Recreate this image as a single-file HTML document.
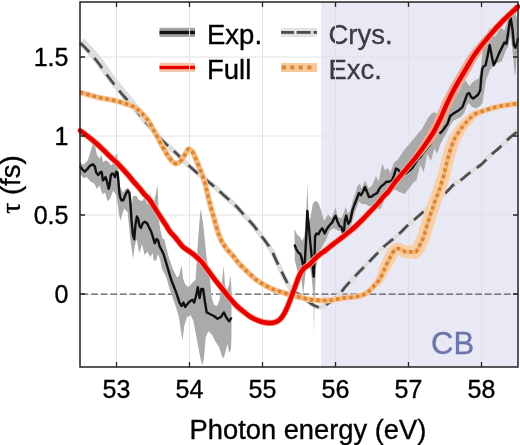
<!DOCTYPE html>
<html><head><meta charset="utf-8"><style>html,body{margin:0;padding:0;background:#fff;width:520px;height:445px;overflow:hidden}svg{display:block}</style></head>
<body>
<svg width="520" height="445" viewBox="0 0 520 445">
<rect width="520" height="445" fill="#fff"/>
<g id="legend">
<rect x="159.5" y="27.8" width="35.5" height="9.2" fill="#a3a3a3"/>
<rect x="159.5" y="30.8" width="35.5" height="3.4" fill="#141414"/>
<rect x="159.5" y="62.9" width="35.5" height="9" fill="#f5c3a8"/>
<rect x="159.5" y="65.8" width="35.5" height="3.4" fill="#e80000"/>
<rect x="281" y="28" width="36" height="9" fill="#e3e3e3"/>
<rect x="281" y="31" width="13" height="2.8" fill="#4d4d4d"/>
<rect x="296.6" y="31" width="14.1" height="2.8" fill="#4d4d4d"/>
<rect x="313.5" y="31" width="3.5" height="2.8" fill="#4d4d4d"/>
<rect x="281" y="63" width="36" height="9" fill="#f7c898"/>
<rect x="282.1" y="65.5" width="4" height="4" fill="#d98636"/>
<rect x="290.3" y="65.5" width="4" height="4" fill="#d98636"/>
<rect x="298.7" y="65.5" width="4" height="4" fill="#d98636"/>
<rect x="307.3" y="65.5" width="4" height="4" fill="#d98636"/>
<text x="207" y="43.6" style="font-family:'Liberation Sans',Arial,Helvetica,sans-serif;font-size:27.5px" fill="#000" stroke="#000" stroke-width="0.35">Exp.</text>
<text x="207" y="78.7" style="font-family:'Liberation Sans',Arial,Helvetica,sans-serif;font-size:27.5px" fill="#000" stroke="#000" stroke-width="0.35">Full</text>
<text x="328.5" y="43.6" style="font-family:'Liberation Sans',Arial,Helvetica,sans-serif;font-size:27.5px" fill="#000" stroke="#000" stroke-width="0.35">Crys.</text>
<text x="328.5" y="78.7" style="font-family:'Liberation Sans',Arial,Helvetica,sans-serif;font-size:27.5px" fill="#000" stroke="#000" stroke-width="0.35">Exc.</text>
</g>
<rect x="321" y="2" width="197" height="365" fill="rgb(185,182,223)" fill-opacity="0.314"/>
<line x1="116.5" y1="2" x2="116.5" y2="367" stroke="#e2e2e2" stroke-width="1"/>
<line x1="189.5" y1="2" x2="189.5" y2="367" stroke="#e2e2e2" stroke-width="1"/>
<line x1="262.5" y1="2" x2="262.5" y2="367" stroke="#e2e2e2" stroke-width="1"/>
<line x1="335.5" y1="2" x2="335.5" y2="367" stroke="#e2e2e2" stroke-width="1"/>
<line x1="408.5" y1="2" x2="408.5" y2="367" stroke="#e2e2e2" stroke-width="1"/>
<line x1="481.5" y1="2" x2="481.5" y2="367" stroke="#e2e2e2" stroke-width="1"/>
<line x1="80" y1="215" x2="518" y2="215" stroke="#e2e2e2" stroke-width="1"/>
<line x1="80" y1="136" x2="518" y2="136" stroke="#e2e2e2" stroke-width="1"/>
<line x1="80" y1="57" x2="518" y2="57" stroke="#e2e2e2" stroke-width="1"/>
<line x1="81.4" y1="294" x2="518" y2="294" stroke="#5a5a5a" stroke-width="1.25" stroke-dasharray="7,2.6"/>
<g fill="none" stroke-linejoin="round">
<path d="M80,162 L83.4,164.7 L87.9,160.2 L90.6,151.2 L93.3,142.2 L95.1,145.8 L96.9,154.8 L99.6,158.4 L101.4,154.8 L103.2,162 L105.9,160.2 L108.6,162 L111.3,165.6 L114,162 L115.8,154.8 L117.2,153.9 L118.4,171 L120.2,187.1 L122.9,192.5 L125.6,188.9 L128.3,188 L130.1,196.1 L131.9,205.1 L133,195.8 L136.6,195.8 L138.4,199.4 L142,201.2 L144.7,197.6 L147.4,204.8 L150.1,192.2 L152.8,206.6 L155.4,195.8 L157.4,185 L158.3,203 L159,221 L160.8,231.7 L162.6,238.9 L164.2,239.1 L166.3,247.6 L168.5,256.2 L170.6,262.6 L172.8,269 L174.9,273.3 L177,277.5 L179,276 L181.7,265 L183,278 L185,284 L188,287 L190.6,285 L193,282 L195.5,280 L196.7,262 L198,240 L200,215 L200.8,209 L201.8,215 L203.5,227 L206.2,254 L208.5,270 L210.2,281 L211.6,297 L214,305 L217,306 L219.5,300 L221.5,285 L223.7,266 L225,285 L227,290 L229,285 L230.5,275 L231.5,290 L231.5,335 L231,349.3 L229.2,352.9 L227.4,343.9 L225.6,351.1 L223.8,358.3 L222,356.5 L219.3,347.5 L215.7,342.1 L212.1,335 L208.5,331.3 L205.8,336.7 L204,358.3 L202.2,365.5 L200.4,358.3 L198.7,349.3 L196,335 L193.3,320.6 L190.6,315.2 L187,317 L184.3,326 L182.5,340.3 L180.7,329.6 L178.9,317 L176.2,308 L172.6,297.2 L169.9,290 L166.3,277 L162,269 L159.9,258.7 L157.8,254 L156.3,260.5 L153.5,260.4 L152.8,253.3 L150.1,256.9 L147.4,251.5 L144.7,255.1 L142,244.3 L139.3,253.3 L136.6,238.9 L134.8,246.1 L133,258.7 L130.3,238.9 L127.6,212 L124,208.4 L120.4,221 L118.6,212 L117.6,203.3 L115.8,194.3 L113.1,190.7 L110.4,197.9 L107.7,201.5 L105,192.5 L102.3,194.3 L99.6,185.3 L96.9,188.9 L94.2,183.5 L90.6,181.7 L87,177.2 L83.4,178.1 L80,173.7 Z" fill="#aaaaaa" stroke="none"/>
<path d="M294.4,229 L297.1,234.5 L299.8,237 L302.5,241 L304.5,235 L306,215 L307.6,184 L308.3,210 L309.5,222 L311,215 L312.5,205 L314,202 L316,200.8 L318.7,203.5 L321.4,211.6 L324.1,221 L328.1,214.3 L331.5,218.3 L335.6,207.5 L337.6,217 L341.6,218.3 L344,212 L346,207 L348,214 L350.5,210 L353,200 L355.5,193 L357.1,186.8 L359.8,183.2 L361.6,188.6 L365.2,180.5 L368.8,188.6 L372.4,185 L376,176 L378.7,181.4 L382.3,163.4 L385,170.6 L387.7,167.9 L390.4,172.4 L394,162.5 L397.6,159.8 L404,150.3 L413,139.5 L422,129 L428,118 L431,114 L434,112 L437,114 L440,110 L447,104 L452,101 L456,96 L460,90 L462.4,84.3 L465.5,80.2 L467.5,83.3 L469.5,86.3 L472.5,82.2 L475.6,80.2 L478.6,78.2 L480.6,72.1 L483,46.4 L486,38 L489.7,27.5 L492,33 L495,37 L500.4,27.5 L504.5,30.2 L507,22 L510,15.4 L515.3,14 L518,20 L518,52 L516.6,56 L516,68 L515.3,76 L514.5,72 L513,55 L511.5,42 L510.2,36 L508,47 L505.8,50.4 L501.8,61.2 L495,64 L490,70 L486,80 L482.6,102.5 L479.6,106.5 L475.6,108.5 L471.5,106.5 L468.5,102.5 L466.5,106.5 L464.4,112.6 L461.4,116.6 L457.4,118.7 L453.3,120.7 L449.3,126.7 L447,132 L443.5,138 L440,145 L437.2,154 L434.5,148.5 L430.9,161 L427.3,154 L423.7,172 L420.2,165 L416.6,180 L413,183 L410.1,187 L404.7,194 L399.3,192 L396,190 L392,190 L388.5,193 L384.5,200 L380.4,209 L376.4,208 L372.4,206 L368.3,206 L365.6,204 L361.6,203.9 L358.9,201.2 L355,212 L352,222 L348,233 L344.3,231 L338.9,231 L333.5,228 L329.5,231 L326,240 L323,245 L320,250 L318,258 L316,268 L314.6,300 L314,336 L313.5,300 L312,280 L310,268 L308,262 L306,270 L304.5,282 L303.2,295 L301.6,281 L300,276 L297.5,271.2 L294.8,260.4 Z" fill="#aaaaaa" stroke="none"/>
<path d="M80,166 L82,169 L84.7,171.7 L87.4,169 L90.1,165.6 L92.8,164.3 L94.8,166.3 L96.2,172.4 L98.2,175 L100.2,172.4 L101.6,171.7 L102.9,180.4 L104.3,179.1 L105.5,177 L106.8,180.7 L108.6,188.8 L109.5,186.1 L110.8,175.3 L112.2,173.5 L114,174.8 L114.9,177.1 L116.2,171.7 L117.6,172.6 L118.5,182.5 L119.4,193.3 L120.3,197.8 L121.6,200.5 L123.4,200 L125.7,194.2 L127.9,190.6 L129.3,192.4 L130.2,200 L131.5,220.4 L132.8,233.9 L134.2,239.3 L135.5,224.5 L136.9,216.4 L138.2,219.1 L139.5,225.8 L140.9,227.9 L142.9,223.1 L144.9,221.8 L147,223.1 L149,227.2 L151,231.2 L152.7,236.4 L154.7,243.1 L156.7,239.1 L158.1,240.4 L159.4,245.8 L161.5,249.9 L163.5,254 L165.8,261.6 L167.8,268.3 L169.8,275.1 L171.9,281.8 L173.9,286.5 L176.2,292.6 L178,298 L179.8,303.4 L181.6,306.1 L183.4,302.5 L185.2,307 L187.9,303.4 L190.6,300.7 L192.4,299.8 L194.2,302.5 L196,296.2 L197.8,287.2 L199.6,298 L201.3,289 L203.1,289 L204.9,301.6 L206.7,312.4 L210.3,314.2 L213.9,316 L217.5,318.7 L221.1,316.9 L223.8,312.4 L226.5,317.8 L229.2,321.3 L231.5,317.5" stroke="#111" stroke-width="2.4"/>
<path d="M294.5,244.5 L296.2,249 L298.2,252.4 L300.2,253.7 L301.6,257.8 L302.9,264.5 L304,271.2 L304.9,260.4 L306.3,236.2 L307.3,211 L309,228.1 L310.3,242.9 L311.7,256.4 L313,269.9 L313.7,276.6 L314.4,260.4 L315.1,236.2 L316.4,233.5 L318.4,234.3 L320.3,230.5 L322.3,228.3 L324.7,233.5 L326.7,229.3 L329.3,225.5 L332.2,222.4 L334.2,218.3 L335.6,215.8 L337.5,221.5 L339.5,226 L341.5,227.1 L343.8,236 L344.8,221 L346.2,215.6 L348.2,223.7 L350.2,221 L352.5,210 L354.8,203.9 L356.9,198.5 L358.9,193.1 L360.9,195.2 L362.9,191.8 L364.9,187.1 L367,191.8 L369,197 L371.7,196.5 L374.4,194.5 L377.1,193.1 L379.1,189.1 L381.1,186.4 L383.8,184.4 L386.5,181.7 L389.2,181.7 L391.9,180.3 L393.9,175.6 L396,168.5 L398,169.5 L400,172 L402.9,174.5 L406.3,173.1 L409.7,170.4 L412.4,167.8 L415.1,163.7 L417.8,159 L420.4,157 L423.1,152.9 L426.5,148.9 L429.9,144.8 L432.6,139.4 L435.3,134 L437.8,131.5 L440.5,133 L443.5,129.5 L445.5,126.5 L447.5,123.9 L450.2,116 L454.3,113.1 L458.3,110.6 L462.4,107.2 L465.1,100 L467.1,94.3 L469.1,92.9 L471.1,97 L473.1,98.5 L475.8,96.5 L478.2,94.5 L480.3,90 L481.2,78.1 L482.2,69 L483.5,66.5 L485.6,65.3 L487.6,55.8 L489.7,45.1 L491.7,55.8 L493.7,65.3 L496.4,59.9 L499.1,53.1 L501.8,47.8 L504.5,42.4 L506.5,43.7 L508.5,30.2 L510.6,16.7 L512.6,30.2 L513.9,45.1 L515.3,47.8 L517.3,42.4 L518,38" stroke="#111" stroke-width="2.4"/>
<path d="M84.1,38.4 C85.7,40 90.2,44.4 93.2,47.9 C96.3,51.3 99.4,55.1 102.4,59.1 C105.5,63 108.4,67.7 111.4,71.7 C114.4,75.8 117.3,79.6 120.2,83.3 C123.1,87 126.1,90.5 129,94 C131.9,97.5 135.1,101.3 137.5,104.4 C139.9,107.6 141.6,110.5 143.4,112.9 C145.2,115.4 145.4,115.7 148.2,119.3 C151,122.8 156.6,130.2 160,134.1 C163.4,138.1 165.8,140.3 168.8,143.1 C171.7,146 174.8,148.4 177.8,151.2 C180.8,154.1 183.8,157.4 186.8,160.2 C189.8,163.1 192.7,165.7 195.7,168.3 C198.6,170.8 201.5,173 204.5,175.4 C207.5,177.8 211,180.5 213.5,182.6 C216,184.7 217.2,185.8 219.7,188 C222.2,190.3 225.7,193.4 228.7,196.1 C231.7,198.8 234.7,201.3 237.8,204.3 C240.8,207.4 243.8,211 246.9,214.3 C249.9,217.6 253.1,220.9 255.8,224.2 C258.5,227.5 261,231.4 263.1,234.2 C265.2,237 266.5,238.6 268.3,241.1 C270.1,243.6 272,246.1 273.8,249.3 C275.5,252.5 277.2,256.6 278.9,260.3 C280.7,264 282.8,268.5 284.3,271.5 C285.8,274.6 286.7,276.4 287.9,278.7 C289.1,281 290.3,283.4 291.4,285.2 C292.5,287.1 293.3,288.7 294.6,289.8 C295.9,291 297.6,291 299.2,291.9 C300.8,292.8 302.9,294.2 304.4,295.3 C306,296.4 306.9,297.4 308.5,298.6 C310,299.8 312.3,301.5 313.7,302.5 C315.2,303.4 316.1,303.8 317.2,304.2 C318.3,304.6 319.2,304.9 320.2,304.8 C321.2,304.7 322.2,304.3 323.4,303.7 C324.6,303 325.9,301.9 327.2,301.1 C328.5,300.2 329.9,299.5 331.2,298.6 C332.5,297.6 333.8,296.4 334.9,295.4 C336.1,294.4 337.1,293.7 338.2,292.4 C339.3,291.1 339.9,289.7 341.6,287.6 C343.4,285.5 346.2,282.3 348.4,279.8 C350.7,277.3 353,274.8 355.3,272.5 C357.5,270.1 359.8,267.8 362,265.5 C364.2,263.3 366.5,261 368.7,258.7 C371,256.5 373.3,254.2 375.5,251.9 C377.8,249.5 380.1,246.9 382.3,244.9 C384.5,242.8 387.1,240.9 388.7,239.6 C390.4,238.3 390.3,238.5 392,237.1 C393.6,235.7 396.4,233.2 398.6,231.1 C400.8,229 403.2,226.5 405.4,224.4 C407.7,222.3 409.9,220.4 412.2,218.5 C414.4,216.5 416.6,214.7 418.9,212.7 C421.1,210.7 421.5,210.1 425.7,206.6 C429.9,203 439.5,195.2 443.9,191.3 C448.3,187.4 449.5,185.1 452,183.1 C454.5,181 456.6,180.4 458.9,178.8 C461.1,177.1 463.4,175 465.6,173.2 C467.8,171.5 469.8,169.9 472.2,168.2 C474.5,166.5 477.6,164.7 479.8,162.9 C482,161.1 483.5,159.1 485.3,157.3 C487.2,155.5 489.1,153.6 491,151.9 C492.9,150.3 494.8,148.9 496.6,147.2 C498.5,145.6 500.3,143.8 502.2,142 C504,140.2 505.9,138.2 507.8,136.5 C509.7,134.8 512,133 513.5,131.8 C515,130.6 516.1,129.7 516.6,129.3 L519.4,132.7 C518.9,133.1 517.7,134 516.3,135.2 C514.9,136.4 512.6,138.1 510.8,139.7 C508.9,141.4 507.1,143.4 505.2,145.2 C503.4,147 501.5,148.9 499.6,150.6 C497.7,152.2 495.8,153.6 494,155.3 C492.1,156.9 490.4,158.7 488.5,160.5 C486.6,162.3 484.9,164.4 482.6,166.3 C480.4,168.2 477.2,170.1 474.8,171.8 C472.5,173.6 470.6,175 468.4,176.8 C466.2,178.5 463.8,180.8 461.5,182.4 C459.3,184.1 457.4,184.5 455,186.5 C452.5,188.6 451.3,190.8 446.9,194.7 C442.5,198.6 432.9,206.5 428.7,210 C424.5,213.6 424.2,214.1 421.9,216.1 C419.7,218.1 417.4,220 415.2,221.9 C413,223.9 410.8,225.7 408.6,227.8 C406.3,229.9 404.1,232.3 401.8,234.5 C399.5,236.6 396.7,239.2 395,240.7 C393.3,242.1 393.2,241.9 391.7,243.2 C390.1,244.5 387.6,246.3 385.5,248.3 C383.4,250.3 381.1,252.9 378.9,255.1 C376.6,257.4 374.3,259.8 372.1,262.1 C369.8,264.3 367.6,266.6 365.4,268.9 C363.2,271.1 361,273.4 358.7,275.7 C356.5,278.1 354.2,280.5 352,283 C349.7,285.5 347,288.5 345.4,290.6 C343.7,292.7 343,294.2 341.8,295.6 C340.6,297 339.4,297.9 338.1,299 C336.8,300.1 335.4,301.4 334,302.4 C332.6,303.4 331.2,304.2 329.8,305.1 C328.4,306 327.1,307.2 325.6,307.9 C324.1,308.7 322.3,309.5 320.6,309.6 C318.9,309.7 317.2,309.3 315.6,308.8 C314,308.3 312.8,307.6 311.1,306.5 C309.4,305.5 307.1,303.6 305.5,302.4 C303.9,301.2 303,300.3 301.6,299.3 C300.1,298.2 298.5,297.1 296.8,296.1 C295.1,295.2 293,294.9 291.4,293.6 C289.8,292.2 288.5,289.9 287.2,287.8 C285.9,285.7 284.7,283.3 283.5,280.9 C282.3,278.6 281.4,276.8 279.9,273.7 C278.4,270.6 276.2,266.1 274.5,262.5 C272.7,258.8 271.1,254.8 269.4,251.7 C267.7,248.6 266,246.4 264.3,243.9 C262.6,241.5 261.2,239.9 259.1,237.2 C257.1,234.4 254.6,230.6 252,227.4 C249.3,224.1 246.1,220.9 243.1,217.7 C240.2,214.4 237.2,210.8 234.2,207.9 C231.3,204.9 228.3,202.6 225.3,199.9 C222.3,197.2 218.8,194 216.3,191.8 C213.8,189.6 212.8,188.6 210.3,186.6 C207.8,184.5 204.3,181.8 201.3,179.4 C198.3,177 195.3,174.7 192.3,172.1 C189.3,169.6 186.2,166.8 183.2,164 C180.2,161.1 177.2,157.8 174.2,155 C171.2,152.1 168.2,149.7 165.2,146.9 C162.2,144 159.7,141.7 156.1,137.8 C152.5,133.9 146.4,126.8 143.4,123.4 C140.4,120 140.1,119.5 138.2,117.1 C136.3,114.7 134.5,112.1 132,109.1 C129.5,106.1 126,102.7 123,99.2 C120,95.7 117,92.1 114,88.3 C110.9,84.5 107.9,80.6 104.9,76.6 C101.9,72.5 98.9,67.9 95.9,64.1 C93,60.2 90,56.7 87.1,53.4 C84.1,50.1 79.6,45.8 78.1,44.3 Z" fill="#dedede" stroke="none"/>
<path d="M80,42.5 C81.5,44 86,48.4 89,51.7 C92,55 95,58.6 98,62.5 C101,66.4 104,71 107,75 C110,79 113,83 116,86.7 C119,90.5 122,94 125,97.5 C128,101 131.5,104.4 134,107.4 C136.5,110.4 138.3,113.1 140.2,115.5 C142.1,117.9 142.4,118.3 145.4,121.7 C148.4,125.1 154.4,132.1 158,136 C161.6,139.9 164,142.2 167,145 C170,147.8 173,150.2 176,153.1 C179,155.9 182,159.2 185,162.1 C188,164.9 191,167.6 194,170.2 C197,172.8 199.9,175 202.9,177.4 C205.9,179.8 209.4,182.5 211.9,184.6 C214.4,186.7 215.5,187.7 218,189.9 C220.5,192.1 224,195.3 227,198 C230,200.7 233,203.1 236,206.1 C239,209.1 242,212.7 245,216 C248,219.3 251.2,222.5 253.9,225.8 C256.6,229.1 259,232.9 261.1,235.7 C263.2,238.5 264.6,240 266.3,242.5 C268.1,245 269.9,247.3 271.6,250.5 C273.3,253.7 274.9,257.7 276.7,261.4 C278.4,265.1 280.6,269.5 282.1,272.6 C283.6,275.7 284.5,277.5 285.7,279.8 C286.9,282.1 288.1,284.5 289.3,286.5 C290.5,288.5 291.6,290.4 293,291.7 C294.4,292.9 296.3,293.1 298,294 C299.7,294.9 301.5,296.2 303,297.3 C304.5,298.4 305.4,299.3 307,300.5 C308.6,301.7 310.8,303.5 312.4,304.5 C314,305.5 315.1,306.1 316.4,306.5 C317.7,306.9 319,307.3 320.4,307.2 C321.8,307.1 323.1,306.5 324.5,305.8 C325.9,305.1 327.1,304 328.5,303.1 C329.9,302.2 331.3,301.5 332.6,300.5 C333.9,299.5 335.3,298.3 336.5,297.2 C337.7,296.1 338.8,295.4 340,294 C341.2,292.6 341.8,291.2 343.5,289.1 C345.2,287 347.9,283.9 350.2,281.4 C352.4,278.9 354.8,276.5 357,274.1 C359.2,271.7 361.5,269.5 363.7,267.2 C365.9,264.9 368.1,262.7 370.4,260.4 C372.6,258.1 374.9,255.8 377.2,253.5 C379.4,251.2 381.7,248.6 383.9,246.6 C386.1,244.6 388.6,242.7 390.2,241.4 C391.8,240.1 391.8,240.3 393.5,238.9 C395.2,237.5 397.9,234.9 400.2,232.8 C402.4,230.7 404.8,228.2 407,226.1 C409.2,224 411.5,222.1 413.7,220.2 C415.9,218.2 418.1,216.4 420.4,214.4 C422.6,212.4 423,211.9 427.2,208.3 C431.4,204.7 441,196.9 445.4,193 C449.8,189.1 451,186.9 453.5,184.8 C456,182.7 457.9,182.2 460.2,180.6 C462.4,179 464.8,176.8 467,175 C469.2,173.2 471.1,171.7 473.5,170 C475.9,168.3 479,166.4 481.2,164.6 C483.4,162.8 485,160.7 486.9,158.9 C488.8,157.1 490.6,155.3 492.5,153.6 C494.4,151.9 496.2,150.6 498.1,148.9 C500,147.2 501.8,145.4 503.7,143.6 C505.6,141.8 507.4,139.8 509.3,138.1 C511.2,136.4 513.4,134.7 514.9,133.5 C516.4,132.3 517.5,131.4 518,131" stroke="#4d4d4d" stroke-width="2.8" stroke-dasharray="12.8,7.63" stroke-dashoffset="19.75"/>
<path d="M79.2,95.2 C80.7,95.6 85.2,96.9 88.2,97.7 C91.2,98.5 94.3,99.5 97.3,100.2 C100.3,100.9 103.4,101.4 106.4,102 C109.4,102.6 112.3,103.1 115.3,103.8 C118.2,104.5 121.2,105.4 124.1,106.4 C126.9,107.3 130.3,108.2 132.6,109.4 C134.9,110.7 136.7,112.6 138,113.8 C139.4,115 139.7,115.4 140.8,116.5 C141.8,117.7 143.3,119.3 144.3,120.6 C145.4,122 145.7,122.3 146.9,124.3 C148.2,126.4 150.1,129.9 151.8,133 C153.5,136.1 155.4,139.6 157.2,142.9 C159,146.2 160.8,149.8 162.6,152.8 C164.5,155.9 166.2,159.1 168.3,161.4 C170.5,163.7 173.2,166.4 175.7,166.6 C178.3,166.8 181.4,164.3 183.5,162.3 C185.6,160.4 187.4,156.5 188.3,154.7 C189.3,153 189.1,152.2 189.3,151.9 C189.6,151.6 189.1,151.8 189.7,153.1 C190.3,154.4 191.8,157.1 193,159.7 C194.1,162.3 195.3,165.7 196.5,168.6 C197.7,171.6 199,174.5 200.1,177.5 C201.1,180.4 201.9,183.3 202.7,186.3 C203.5,189.2 203.8,191.5 204.7,195.1 C205.6,198.7 206.8,203.6 207.9,207.8 C209,212 210.3,216.2 211.5,220.4 C212.7,224.6 213.9,229.4 215.2,233.1 C216.4,236.7 217.4,239.5 218.9,242.5 C220.5,245.5 222.5,248.3 224.6,251 C226.8,253.8 229.9,256.8 231.9,259.2 C233.9,261.6 234.4,262.9 236.8,265.4 C239.1,268 242.9,271.7 245.9,274.6 C249,277.5 252.1,280.5 255.2,282.8 C258.3,285.1 261.5,286.8 264.6,288.4 C267.7,290.1 270.8,291.7 273.9,292.9 C277,294.1 280,294.8 283,295.7 C286.1,296.6 289.1,297.6 292.1,298.4 C295.1,299.2 298.4,299.9 301.2,300.6 C303.9,301.3 306.3,302.1 308.6,302.5 C310.8,302.9 312.8,302.8 314.8,303 C316.7,303.1 318.2,303.3 320.3,303.4 C322.4,303.5 325,303.5 327.3,303.4 C329.7,303.3 331.6,303.2 334.3,302.8 C337.1,302.4 340,301.5 343.9,301 C347.8,300.4 353.8,300.3 357.6,299.5 C361.3,298.8 364,297.8 366.4,296.6 C368.9,295.3 370.7,293.7 372.4,292.1 C374.1,290.6 375.2,288.8 376.7,287.3 C378.2,285.9 379.8,285.2 381.4,283.4 C383,281.6 384.6,279.3 386.3,276.6 C387.9,274 389.7,270.3 391.3,267.5 C392.8,264.6 394.5,261.8 395.8,259.6 C397.1,257.4 398.5,255.1 398.9,254.3 C399.3,253.5 398.1,254.5 398.3,254.8 C398.5,255.1 398.9,255.5 400.2,256.1 C401.4,256.7 403.9,258.1 405.6,258.4 C407.3,258.7 408.6,258.1 410.5,258.2 C412.3,258.2 414.5,259.5 416.6,258.7 C418.7,257.8 421.3,255.4 422.9,253.3 C424.6,251.2 425.3,248.7 426.5,246.3 C427.6,243.8 428.9,241.5 429.9,238.7 C430.9,235.9 431.8,232 432.6,229.3 C433.4,226.6 434,224.7 434.6,222.5 C435.3,220.4 435.9,218.3 436.6,216.4 C437.2,214.5 437.9,213.3 438.6,211.3 C439.2,209.2 439.6,207.2 440.7,204.1 C441.8,201 443.5,197 445,192.8 C446.4,188.6 448.2,183 449.4,179 C450.5,175.1 451,172.3 451.8,169 C452.6,165.7 453.3,162.5 454.1,159.3 C455,156 456.1,152.3 457,149.4 C457.9,146.5 458.7,144.1 459.7,141.9 C460.7,139.6 461.9,137.7 463,135.7 C464.1,133.7 465.4,131.6 466.5,129.9 C467.7,128.1 468.9,126.8 470,125.3 C471.1,123.9 471.8,122.6 473.1,121.2 C474.3,119.8 475.9,118.1 477.4,117 C478.9,115.9 480.5,115.1 482.2,114.4 C484,113.7 485.9,113.2 487.8,112.7 C489.6,112.1 491.5,111.5 493.3,111 C495.2,110.5 496.9,109.9 498.8,109.5 C500.6,109.1 502.4,108.9 504.2,108.6 C506,108.2 507.9,107.9 509.8,107.7 C511.6,107.4 513.9,107.1 515.3,106.9 C516.7,106.7 517.8,106.6 518.3,106.6 L517.7,100.6 C517.2,100.7 516,100.7 514.5,100.9 C513,101.1 510.7,101.4 508.8,101.7 C507,102 505.1,102.3 503.2,102.6 C501.3,103 499.4,103.2 497.4,103.7 C495.5,104.1 493.6,104.7 491.7,105.2 C489.8,105.8 487.9,106.3 486,106.9 C484.1,107.5 482.2,108.1 480.2,108.8 C478.1,109.4 475.9,109.8 473.8,110.8 C471.7,111.8 469.2,113.4 467.3,114.8 C465.5,116.1 464.3,117.4 462.8,118.9 C461.3,120.3 459.8,121.7 458.3,123.5 C456.7,125.3 455.1,127.5 453.6,129.7 C452.1,131.9 450.5,134.1 449.1,136.7 C447.7,139.4 446.6,142.2 445.4,145.4 C444.2,148.6 443,152.5 442.1,155.9 C441.1,159.4 440.4,162.7 439.6,166 C438.8,169.3 438.3,171.8 437.2,175.6 C436.1,179.3 434.4,184.6 433,188.6 C431.6,192.7 429.8,196.8 428.7,199.9 C427.6,203 427.2,205.1 426.4,207.1 C425.7,209.2 425.1,210.3 424.4,212.2 C423.8,214.1 423.1,216.4 422.4,218.7 C421.7,220.9 421,223.1 420.2,225.7 C419.4,228.3 418.6,231.8 417.7,234.3 C416.8,236.8 415.7,238.7 414.7,240.7 C413.8,242.7 412.4,245.4 412.1,246.3 C411.8,247.2 413.2,246.5 413,246.3 C412.8,246.2 411.8,245.5 410.9,245.4 C410.1,245.4 408.7,246.1 407.8,246 C406.8,245.9 406.7,245.3 405.2,244.7 C403.8,244.1 401.4,242.3 398.9,242.4 C396.4,242.6 392.6,243.8 390.3,245.7 C388,247.6 386.7,250.9 385.2,253.8 C383.7,256.6 382.4,259.6 381.1,262.7 C379.9,265.9 378.9,269.8 377.9,272.6 C377,275.3 376.2,277.2 375.2,279 C374.3,280.8 373.4,281.8 372.3,283.3 C371.1,284.7 369.8,286.4 368.4,287.7 C367,289 365.7,290.2 363.8,291.2 C361.8,292.2 359.9,293 356.4,293.7 C353,294.3 346.9,294.5 343.1,295 C339.3,295.6 336.1,296.4 333.5,296.8 C330.8,297.2 329.2,297.3 327.1,297.4 C324.9,297.5 322.5,297.5 320.5,297.4 C318.5,297.3 317.1,297.2 315.2,297 C313.4,296.9 311.7,296.9 309.6,296.5 C307.5,296.2 305.3,295.4 302.6,294.8 C300,294.1 296.7,293.4 293.7,292.6 C290.7,291.8 287.7,290.8 284.8,289.9 C281.8,289 279,288.4 276.1,287.3 C273.2,286.2 270.3,284.7 267.4,283.2 C264.5,281.6 261.7,280.2 258.8,278 C255.9,275.8 253,273 250.1,270.2 C247.1,267.4 243.5,263.9 241.2,261.4 C239,258.9 238.5,257.7 236.5,255.4 C234.5,253 231.4,250 229.4,247.4 C227.3,244.7 225.7,242.4 224.3,239.7 C222.8,237 222,234.6 220.8,231.1 C219.7,227.7 218.5,222.9 217.3,218.8 C216.1,214.6 214.8,210.4 213.7,206.2 C212.6,202 211.4,197.3 210.5,193.7 C209.7,190.1 209.3,187.8 208.5,184.7 C207.7,181.7 206.8,178.6 205.7,175.5 C204.7,172.5 203.3,169.4 202.1,166.4 C200.9,163.3 199.7,160.1 198.4,157.3 C197.2,154.5 196.3,151.3 194.5,149.5 C192.7,147.6 189.5,145.8 187.7,146.1 C185.8,146.4 184.7,149.5 183.3,151.5 C181.8,153.5 180.3,156.7 179.1,158.3 C177.9,159.8 177.3,160.7 176.3,160.6 C175.2,160.5 174.3,159.2 172.9,157.4 C171.4,155.6 169.5,152.6 167.8,149.8 C166,146.9 164.2,143.3 162.4,140.1 C160.6,136.8 158.8,133.3 157,130.2 C155.3,127 153.4,123.5 152.1,121.3 C150.7,119.1 150.2,118.4 149.1,117 C147.9,115.5 146.4,113.8 145.2,112.5 C144,111.2 143.6,110.6 142,109.2 C140.3,107.8 138.1,105.6 135.4,104.2 C132.7,102.7 129.1,101.7 125.9,100.6 C122.8,99.6 119.8,98.7 116.7,98 C113.7,97.2 110.6,96.8 107.6,96.2 C104.6,95.6 101.7,95.1 98.7,94.4 C95.7,93.7 92.8,92.7 89.8,91.9 C86.8,91.1 82.3,89.8 80.8,89.4 Z" fill="#f8cfa6" stroke="none"/>
<path d="M80,92.3 C81.5,92.7 86,94 89,94.8 C92,95.6 95,96.6 98,97.3 C101,98 104,98.5 107,99.1 C110,99.7 113,100.2 116,100.9 C119,101.6 122,102.5 125,103.5 C128,104.5 131.5,105.5 134,106.8 C136.5,108.1 138.5,110.2 140,111.5 C141.5,112.8 141.9,113.3 143,114.5 C144.1,115.7 145.6,117.4 146.7,118.8 C147.8,120.2 148.2,120.7 149.5,122.8 C150.8,124.9 152.7,128.5 154.4,131.6 C156.1,134.7 158,138.2 159.8,141.5 C161.6,144.8 163.4,148.3 165.2,151.3 C167,154.3 168.8,157.4 170.6,159.4 C172.4,161.4 174.2,163.4 176,163.6 C177.8,163.8 179.7,162.1 181.3,160.3 C182.9,158.6 184.6,155 185.8,153.1 C187,151.2 187.4,149.3 188.5,149 C189.6,148.7 190.9,149.7 192.1,151.3 C193.3,152.9 194.5,155.8 195.7,158.5 C196.9,161.2 198.1,164.5 199.3,167.5 C200.5,170.5 201.9,173.5 202.9,176.5 C203.9,179.5 204.8,182.5 205.6,185.5 C206.4,188.5 206.7,190.8 207.6,194.4 C208.5,198 209.7,202.8 210.8,207 C211.9,211.2 213.2,215.4 214.4,219.6 C215.6,223.8 216.8,228.5 218,232.1 C219.2,235.7 220.1,238.2 221.6,241.1 C223.1,243.9 224.9,246.5 227,249.2 C229.1,251.9 232.2,254.9 234.2,257.3 C236.2,259.7 236.7,260.9 239,263.4 C241.3,265.9 245,269.6 248,272.4 C251,275.2 254,278.2 257,280.4 C260,282.6 263,284.2 266,285.8 C269,287.4 272,288.9 275,290.1 C278,291.3 280.9,291.9 283.9,292.8 C286.9,293.7 289.9,294.7 292.9,295.5 C295.9,296.3 299.2,297 301.9,297.7 C304.6,298.4 306.9,299.1 309.1,299.5 C311.3,299.9 313.1,299.9 315,300 C316.9,300.1 318.4,300.3 320.4,300.4 C322.4,300.5 324.9,300.5 327.2,300.4 C329.4,300.3 331.2,300.2 333.9,299.8 C336.6,299.4 339.6,298.5 343.5,298 C347.4,297.5 353.4,297.3 357,296.6 C360.6,295.9 362.9,295 365.1,293.9 C367.3,292.8 368.8,291.3 370.4,289.9 C372,288.5 373.2,286.8 374.5,285.3 C375.8,283.9 377,283 378.3,281.2 C379.6,279.4 380.8,277.3 382.1,274.6 C383.4,271.9 384.8,268.1 386.2,265.1 C387.6,262.1 389.1,259.2 390.5,256.7 C391.9,254.2 393.2,251.3 394.6,250 C396,248.7 397.2,248.5 398.6,248.6 C400,248.7 401.4,249.8 402.7,250.4 C404,251 405.4,252 406.7,252.2 C408,252.4 409.3,251.8 410.7,251.8 C412.1,251.9 413.7,252.8 414.8,252.5 C415.9,252.2 416.5,251.3 417.5,249.8 C418.5,248.3 419.6,245.7 420.6,243.5 C421.7,241.3 422.8,239.2 423.8,236.5 C424.8,233.8 425.6,230.2 426.4,227.5 C427.2,224.8 427.8,222.8 428.5,220.6 C429.2,218.4 429.8,216.2 430.5,214.3 C431.2,212.4 431.8,211.2 432.5,209.2 C433.2,207.1 433.6,205.1 434.7,202 C435.8,198.9 437.6,194.8 439,190.7 C440.4,186.6 442.2,181.2 443.3,177.3 C444.4,173.4 444.9,170.8 445.7,167.5 C446.5,164.2 447.2,160.9 448.1,157.6 C449,154.2 450.1,150.4 451.2,147.4 C452.2,144.4 453.2,141.8 454.4,139.3 C455.6,136.9 457,134.8 458.3,132.7 C459.6,130.6 461,128.5 462.4,126.7 C463.8,124.9 465.1,123.5 466.4,122.1 C467.7,120.6 468.7,119.4 470.2,118 C471.7,116.6 473.8,115 475.6,113.9 C477.4,112.8 479.3,112.3 481.2,111.6 C483.1,110.9 485,110.4 486.9,109.8 C488.8,109.2 490.6,108.6 492.5,108.1 C494.4,107.6 496.2,107 498.1,106.6 C500,106.2 501.8,105.9 503.7,105.6 C505.6,105.3 507.4,105 509.3,104.7 C511.2,104.4 513.4,104.1 514.9,103.9 C516.4,103.7 517.5,103.6 518,103.6" stroke="#f4b57a" stroke-width="4"/>
<path d="M80,92.3 C81.5,92.7 86,94 89,94.8 C92,95.6 95,96.6 98,97.3 C101,98 104,98.5 107,99.1 C110,99.7 113,100.2 116,100.9 C119,101.6 122,102.5 125,103.5 C128,104.5 131.5,105.5 134,106.8 C136.5,108.1 138.5,110.2 140,111.5 C141.5,112.8 141.9,113.3 143,114.5 C144.1,115.7 145.6,117.4 146.7,118.8 C147.8,120.2 148.2,120.7 149.5,122.8 C150.8,124.9 152.7,128.5 154.4,131.6 C156.1,134.7 158,138.2 159.8,141.5 C161.6,144.8 163.4,148.3 165.2,151.3 C167,154.3 168.8,157.4 170.6,159.4 C172.4,161.4 174.2,163.4 176,163.6 C177.8,163.8 179.7,162.1 181.3,160.3 C182.9,158.6 184.6,155 185.8,153.1 C187,151.2 187.4,149.3 188.5,149 C189.6,148.7 190.9,149.7 192.1,151.3 C193.3,152.9 194.5,155.8 195.7,158.5 C196.9,161.2 198.1,164.5 199.3,167.5 C200.5,170.5 201.9,173.5 202.9,176.5 C203.9,179.5 204.8,182.5 205.6,185.5 C206.4,188.5 206.7,190.8 207.6,194.4 C208.5,198 209.7,202.8 210.8,207 C211.9,211.2 213.2,215.4 214.4,219.6 C215.6,223.8 216.8,228.5 218,232.1 C219.2,235.7 220.1,238.2 221.6,241.1 C223.1,243.9 224.9,246.5 227,249.2 C229.1,251.9 232.2,254.9 234.2,257.3 C236.2,259.7 236.7,260.9 239,263.4 C241.3,265.9 245,269.6 248,272.4 C251,275.2 254,278.2 257,280.4 C260,282.6 263,284.2 266,285.8 C269,287.4 272,288.9 275,290.1 C278,291.3 280.9,291.9 283.9,292.8 C286.9,293.7 289.9,294.7 292.9,295.5 C295.9,296.3 299.2,297 301.9,297.7 C304.6,298.4 306.9,299.1 309.1,299.5 C311.3,299.9 313.1,299.9 315,300 C316.9,300.1 318.4,300.3 320.4,300.4 C322.4,300.5 324.9,300.5 327.2,300.4 C329.4,300.3 331.2,300.2 333.9,299.8 C336.6,299.4 339.6,298.5 343.5,298 C347.4,297.5 353.4,297.3 357,296.6 C360.6,295.9 362.9,295 365.1,293.9 C367.3,292.8 368.8,291.3 370.4,289.9 C372,288.5 373.2,286.8 374.5,285.3 C375.8,283.9 377,283 378.3,281.2 C379.6,279.4 380.8,277.3 382.1,274.6 C383.4,271.9 384.8,268.1 386.2,265.1 C387.6,262.1 389.1,259.2 390.5,256.7 C391.9,254.2 393.2,251.3 394.6,250 C396,248.7 397.2,248.5 398.6,248.6 C400,248.7 401.4,249.8 402.7,250.4 C404,251 405.4,252 406.7,252.2 C408,252.4 409.3,251.8 410.7,251.8 C412.1,251.9 413.7,252.8 414.8,252.5 C415.9,252.2 416.5,251.3 417.5,249.8 C418.5,248.3 419.6,245.7 420.6,243.5 C421.7,241.3 422.8,239.2 423.8,236.5 C424.8,233.8 425.6,230.2 426.4,227.5 C427.2,224.8 427.8,222.8 428.5,220.6 C429.2,218.4 429.8,216.2 430.5,214.3 C431.2,212.4 431.8,211.2 432.5,209.2 C433.2,207.1 433.6,205.1 434.7,202 C435.8,198.9 437.6,194.8 439,190.7 C440.4,186.6 442.2,181.2 443.3,177.3 C444.4,173.4 444.9,170.8 445.7,167.5 C446.5,164.2 447.2,160.9 448.1,157.6 C449,154.2 450.1,150.4 451.2,147.4 C452.2,144.4 453.2,141.8 454.4,139.3 C455.6,136.9 457,134.8 458.3,132.7 C459.6,130.6 461,128.5 462.4,126.7 C463.8,124.9 465.1,123.5 466.4,122.1 C467.7,120.6 468.7,119.4 470.2,118 C471.7,116.6 473.8,115 475.6,113.9 C477.4,112.8 479.3,112.3 481.2,111.6 C483.1,110.9 485,110.4 486.9,109.8 C488.8,109.2 490.6,108.6 492.5,108.1 C494.4,107.6 496.2,107 498.1,106.6 C500,106.2 501.8,105.9 503.7,105.6 C505.6,105.3 507.4,105 509.3,104.7 C511.2,104.4 513.4,104.1 514.9,103.9 C516.4,103.7 517.5,103.6 518,103.6" stroke="#da8534" stroke-width="3.6" stroke-dasharray="3.3,3.3"/>
<path d="M78,133.1 C79.9,134.5 85.4,138.5 89.1,141.6 C92.8,144.7 97.1,148.5 100.3,151.5 C103.5,154.4 105.8,157 108.2,159.3 C110.5,161.5 112.3,162.9 114.4,164.9 C116.5,167 118.7,169.4 120.6,171.5 C122.5,173.6 124.2,175.4 125.9,177.4 C127.7,179.5 129.5,181.8 131.3,183.9 C133.1,186 135.1,188 136.7,189.9 C138.4,191.8 139.9,193.9 141.2,195.5 C142.6,197.1 144,198.4 145,199.6 C146,200.7 146.3,200.8 147.3,202.3 C148.4,203.8 149.9,206.4 151.3,208.4 C152.6,210.5 154,212.7 155.4,214.8 C156.7,217 158,219.1 159.4,221.2 C160.7,223.2 162.1,225.2 163.5,227.3 C164.8,229.4 166.2,232 167.6,233.8 C169,235.7 170.5,236.8 171.8,238.4 C173.2,240 174.4,241.6 175.8,243.3 C177.2,245 178.6,247.2 180.1,248.6 C181.6,250 183.1,251 184.5,252 C185.9,253.1 187.2,253.8 188.5,254.7 C189.8,255.7 191.1,256.6 192.4,257.7 C193.7,258.8 195.1,260.1 196.3,261.2 C197.5,262.3 198.1,262.5 199.5,264.3 C200.9,266 202.8,268.8 204.9,271.6 C206.9,274.4 209.5,277.9 211.8,281 C214.2,284.1 216.6,287 219.1,290 C221.5,293 223.9,296.2 226.3,299.1 C228.8,302 231.2,304.9 233.7,307.4 C236.2,309.9 238.6,311.8 241.1,313.8 C243.5,315.8 246,317.9 248.6,319.5 C251.1,321 253.7,322.3 256.3,323.3 C258.9,324.4 261.5,325.2 264.1,325.7 C266.8,326.2 269.8,326.4 272.2,326.1 C274.6,325.9 276.9,325.1 278.7,324.2 C280.5,323.4 281.5,322.4 282.9,321 C284.2,319.6 285.5,318 286.8,315.6 C288.2,313.2 289.7,309.8 291.1,306.6 C292.5,303.3 293.8,299.6 295.1,295.9 C296.5,292.3 297.9,288.2 299.2,284.8 C300.6,281.3 301.9,277.6 303.1,275.2 C304.3,272.8 305.1,271.7 306.6,270.3 C308.1,268.9 310,268.2 311.8,266.7 C313.6,265.1 315.6,262.7 317.3,261.1 C319.1,259.4 320.7,257.9 322.4,256.5 C324.2,255.1 326,254.1 327.8,252.7 C329.6,251.3 331.4,249.7 333.2,248.3 C335,246.8 336.6,245.6 338.7,244.1 C340.7,242.5 343.2,240.7 345.5,239 C347.8,237.2 350,235.5 352.3,233.6 C354.6,231.6 356.9,229.5 359.2,227.4 C361.5,225.2 363.8,223 366,220.7 C368.3,218.4 370.5,215.9 372.7,213.5 C375,211.2 377.4,209 379.6,206.5 C381.9,203.9 384.5,200.3 386.3,198.2 C388.2,196.2 388.9,196.1 390.5,194 C392.2,192 394.3,188.6 396.3,186 C398.3,183.3 400.5,180.7 402.7,178.1 C404.9,175.4 407.2,172.8 409.5,170.1 C411.7,167.4 413.9,164.9 416.2,162.1 C418.6,159.4 421.3,156.4 423.6,153.8 C425.9,151.1 427.4,149.4 429.9,146.1 C432.4,142.9 435.8,138.4 438.4,134.1 C441,129.8 443.1,125.1 445.4,120.2 C447.7,115.4 449.8,109.8 452.1,105 C454.3,100.2 456.5,95.7 458.7,91.5 C460.9,87.3 463,83.8 465.3,79.9 C467.5,76.1 470.1,71.9 472.1,68.4 C474.1,64.8 475.5,61.9 477.4,58.8 C479.4,55.7 481.5,52.6 483.6,49.7 C485.6,46.7 487.8,43.8 489.9,41.1 C492,38.3 494.1,35.5 496.3,33 C498.5,30.5 500.6,28.2 502.9,25.9 C505.1,23.6 507.3,21.3 509.5,19.1 C511.7,16.9 514.4,14.6 516.2,12.9 C517.9,11.2 519.6,9.5 520.3,8.8 L515.7,4.2 C515,4.8 513.5,6.4 511.6,8.1 C509.8,9.8 507.2,12.1 504.9,14.3 C502.6,16.5 500.2,18.8 497.9,21.1 C495.7,23.5 493.4,25.9 491.1,28.4 C488.8,30.9 486.5,33.6 484.1,36.3 C481.7,39 479.3,41.6 476.8,44.5 C474.4,47.4 471.8,50.5 469.6,53.6 C467.3,56.7 465.7,59.7 463.5,63.2 C461.3,66.8 458.8,70.9 456.5,74.9 C454.2,78.8 452,82.4 449.7,86.7 C447.4,91 445,95.8 442.7,100.6 C440.5,105.5 438.2,111.1 436,115.8 C433.8,120.5 431.7,124.7 429.4,128.9 C427.1,133.1 424.1,137.5 422.1,140.9 C420.1,144.2 419,146.2 417.2,149 C415.4,151.9 413.3,155.2 411.2,158.1 C409.1,160.9 406.8,163.3 404.5,165.9 C402.3,168.5 399.9,171.2 397.7,173.9 C395.5,176.6 393.2,179.4 391.1,182 C389.1,184.7 387.1,188 385.5,190 C383.9,191.9 383.2,191.9 381.5,194 C379.7,196 377,199.6 374.8,202.1 C372.5,204.7 370.3,206.7 368.1,209.1 C365.8,211.4 363.6,213.9 361.4,216.1 C359.2,218.4 357,220.6 354.8,222.6 C352.6,224.7 350.3,226.8 348.1,228.6 C345.9,230.5 343.7,232.1 341.5,233.8 C339.3,235.5 336.8,237.4 334.7,238.9 C332.7,240.5 331,241.7 329.2,243.1 C327.4,244.6 325.6,246.1 323.8,247.5 C322,248.9 320.2,250 318.4,251.5 C316.5,252.9 314.7,254.6 312.9,256.3 C311.1,258.1 309.4,260.2 307.6,261.7 C305.8,263.3 303.7,264 302,265.7 C300.3,267.4 298.8,269.4 297.3,272.2 C295.8,275 294.5,278.9 293.2,282.4 C291.8,286 290.4,290.1 289.1,293.7 C287.7,297.3 286.4,300.9 285.1,304 C283.8,307.2 282.3,310.3 281.2,312.4 C280,314.5 279,315.6 278.1,316.6 C277.2,317.6 277,317.9 275.9,318.4 C274.8,318.9 273.4,319.5 271.6,319.7 C269.8,319.8 267.4,319.7 265.3,319.3 C263.1,318.9 260.9,318.2 258.7,317.3 C256.5,316.4 254.3,315.4 252,313.9 C249.8,312.5 247.4,310.6 245.1,308.8 C242.9,306.9 240.6,305.1 238.3,302.8 C236,300.5 233.6,297.7 231.3,294.9 C228.9,292.1 226.5,289 224.1,286 C221.8,283 219.3,280 217,277 C214.6,274 212.2,270.6 210.1,267.8 C208,265 206.1,262 204.5,260.1 C202.9,258.2 202,257.7 200.7,256.4 C199.4,255.2 198,253.9 196.6,252.7 C195.2,251.5 193.7,250.4 192.3,249.5 C190.9,248.5 189.6,247.7 188.3,246.8 C187,245.9 185.9,245.3 184.7,244 C183.5,242.7 182.1,240.9 180.8,239.3 C179.5,237.6 178.1,235.7 176.8,234.2 C175.4,232.6 174.1,231.7 172.8,230 C171.5,228.2 170.3,225.8 168.9,223.7 C167.6,221.7 166.2,219.7 164.8,217.6 C163.5,215.6 162.2,213.5 160.8,211.4 C159.5,209.2 158.1,207.1 156.7,205 C155.4,202.8 153.8,200.1 152.7,198.5 C151.5,196.9 150.9,196.4 149.8,195.2 C148.7,194 147.5,192.9 146.2,191.3 C144.8,189.7 143.3,187.6 141.7,185.7 C140,183.8 138.1,181.8 136.3,179.7 C134.5,177.6 132.7,175.3 130.9,173.2 C129,171.1 127.4,169.2 125.4,167.1 C123.4,164.9 121.1,162.4 119,160.3 C116.9,158.2 115,156.8 112.6,154.5 C110.3,152.3 107.9,149.7 104.7,146.7 C101.5,143.7 97.1,139.7 93.3,136.6 C89.5,133.5 83.9,129.4 82,127.9 Z" fill="#f2a890" stroke="none"/>
<path d="M80,130.5 C81.9,131.9 87.5,136 91.2,139.1 C95,142.2 99.3,146.1 102.5,149.1 C105.7,152.1 108,154.7 110.4,156.9 C112.8,159.2 114.6,160.5 116.7,162.6 C118.8,164.7 121,167.2 123,169.3 C125,171.4 126.6,173.2 128.4,175.3 C130.2,177.4 132,179.7 133.8,181.8 C135.6,183.9 137.5,185.9 139.2,187.8 C140.8,189.7 142.3,191.8 143.7,193.4 C145.1,195 146.3,196.2 147.4,197.4 C148.5,198.6 148.9,198.9 150,200.4 C151.1,201.9 152.7,204.6 154,206.7 C155.3,208.8 156.8,211 158.1,213.1 C159.4,215.2 160.8,217.3 162.1,219.4 C163.4,221.5 164.8,223.4 166.2,225.5 C167.5,227.6 168.8,230.1 170.2,231.9 C171.5,233.7 173,234.7 174.3,236.3 C175.7,237.9 177,239.6 178.3,241.3 C179.7,243 181.1,245 182.4,246.3 C183.8,247.7 185.1,248.4 186.4,249.4 C187.7,250.4 189.1,251.1 190.4,252.1 C191.8,253.1 193.2,254.1 194.5,255.2 C195.8,256.3 197.2,257.6 198.5,258.8 C199.8,260 200.5,260.4 202,262.2 C203.5,264 205.4,266.9 207.5,269.7 C209.6,272.5 212.1,275.9 214.4,279 C216.8,282.1 219.2,285 221.6,288 C224,291 226.4,294.1 228.8,297 C231.2,299.9 233.6,302.7 236,305.1 C238.4,307.5 240.7,309.4 243.1,311.3 C245.5,313.2 247.9,315.2 250.3,316.7 C252.7,318.2 255.1,319.3 257.5,320.3 C259.9,321.3 262.3,322.1 264.7,322.5 C267.1,322.9 269.8,323.1 271.9,322.9 C274,322.7 275.9,322 277.3,321.3 C278.7,320.6 279.4,320 280.5,318.8 C281.6,317.6 282.7,316.2 284,314 C285.3,311.8 286.8,308.5 288.1,305.3 C289.5,302.1 290.8,298.4 292.1,294.8 C293.5,291.2 294.9,287.1 296.2,283.6 C297.5,280.1 298.8,276.3 300.2,273.7 C301.6,271.1 302.7,269.6 304.3,268 C305.9,266.4 307.9,265.8 309.7,264.2 C311.5,262.6 313.3,260.4 315.1,258.7 C316.9,257 318.6,255.4 320.4,254 C322.2,252.6 324,251.5 325.8,250.1 C327.6,248.7 329.4,247.1 331.2,245.7 C333,244.3 334.6,243.1 336.7,241.5 C338.8,239.9 341.2,238.1 343.5,236.4 C345.8,234.7 347.9,233 350.2,231.1 C352.4,229.2 354.8,227.1 357,225 C359.2,222.9 361.5,220.7 363.7,218.4 C365.9,216.1 368.1,213.7 370.4,211.3 C372.6,209 374.9,206.8 377.2,204.3 C379.4,201.8 382.1,198.2 383.9,196.1 C385.7,194 386.4,194 388,192 C389.6,190 391.7,186.7 393.7,184 C395.7,181.3 398,178.7 400.2,176 C402.4,173.3 404.8,170.7 407,168 C409.2,165.3 411.5,162.9 413.7,160.1 C415.9,157.3 418.3,154.2 420.4,151.4 C422.4,148.6 423.8,146.8 426,143.5 C428.2,140.2 431.4,135.8 433.9,131.5 C436.3,127.2 438.4,122.8 440.7,118 C442.9,113.2 445.1,107.6 447.4,102.8 C449.6,98 451.9,93.3 454.2,89.1 C456.4,84.9 458.6,81.3 460.9,77.4 C463.2,73.5 465.7,69.3 467.8,65.8 C469.9,62.3 471.4,59.3 473.5,56.2 C475.6,53.1 477.9,50 480.2,47.1 C482.4,44.2 484.8,41.4 487,38.7 C489.2,36 491.5,33.2 493.7,30.7 C495.9,28.2 498.1,25.8 500.4,23.5 C502.6,21.2 504.9,18.9 507.2,16.7 C509.4,14.5 512.1,12.2 513.9,10.5 C515.7,8.8 517.3,7.2 518,6.5" stroke="#e80000" stroke-width="4.6" stroke-linecap="round"/>
</g>
<rect x="80" y="2" width="438" height="365" fill="none" stroke="#222" stroke-width="1.5"/>
<path d="M116.5,367 V362 M116.5,2 V7 M189.5,367 V362 M189.5,2 V7 M262.5,367 V362 M262.5,2 V7 M335.5,367 V362 M335.5,2 V7 M408.5,367 V362 M408.5,2 V7 M481.5,367 V362 M481.5,2 V7 M80,294 H85 M518,294 H513 M80,215 H85 M518,215 H513 M80,136 H85 M518,136 H513 M80,57 H85 M518,57 H513" stroke="#222" stroke-width="1.3" fill="none"/>
<text x="116.5" y="397.6" text-anchor="middle" style="font-family:'Liberation Sans',Arial,Helvetica,sans-serif;font-size:25px" fill="#000" stroke="#000" stroke-width="0.35">53</text>
<text x="189.5" y="397.6" text-anchor="middle" style="font-family:'Liberation Sans',Arial,Helvetica,sans-serif;font-size:25px" fill="#000" stroke="#000" stroke-width="0.35">54</text>
<text x="262.5" y="397.6" text-anchor="middle" style="font-family:'Liberation Sans',Arial,Helvetica,sans-serif;font-size:25px" fill="#000" stroke="#000" stroke-width="0.35">55</text>
<text x="335.5" y="397.6" text-anchor="middle" style="font-family:'Liberation Sans',Arial,Helvetica,sans-serif;font-size:25px" fill="#000" stroke="#000" stroke-width="0.35">56</text>
<text x="408.5" y="397.6" text-anchor="middle" style="font-family:'Liberation Sans',Arial,Helvetica,sans-serif;font-size:25px" fill="#000" stroke="#000" stroke-width="0.35">57</text>
<text x="481.5" y="397.6" text-anchor="middle" style="font-family:'Liberation Sans',Arial,Helvetica,sans-serif;font-size:25px" fill="#000" stroke="#000" stroke-width="0.35">58</text>
<text x="68.4" y="302.6" text-anchor="end" style="font-family:'Liberation Sans',Arial,Helvetica,sans-serif;font-size:25px" fill="#000" stroke="#000" stroke-width="0.35">0</text>
<text x="68.4" y="223.6" text-anchor="end" style="font-family:'Liberation Sans',Arial,Helvetica,sans-serif;font-size:25px" fill="#000" stroke="#000" stroke-width="0.35">0.5</text>
<text x="68.4" y="144.6" text-anchor="end" style="font-family:'Liberation Sans',Arial,Helvetica,sans-serif;font-size:25px" fill="#000" stroke="#000" stroke-width="0.35">1</text>
<text x="68.4" y="65.6" text-anchor="end" style="font-family:'Liberation Sans',Arial,Helvetica,sans-serif;font-size:25px" fill="#000" stroke="#000" stroke-width="0.35">1.5</text>
<text x="189.6" y="439.4" style="font-family:'Liberation Sans',Arial,Helvetica,sans-serif;font-size:27.3px" fill="#000" stroke="#000" stroke-width="0.35">Photon energy (eV)</text>
<text transform="translate(19.5,184.6) rotate(-90)" text-anchor="middle" style="font-family:'Liberation Sans',Arial,Helvetica,sans-serif;font-size:27.5px" fill="#000" stroke="#000" stroke-width="0.35"><tspan style="font-family:'Liberation Serif',serif">τ</tspan> (fs)</text>
<text x="431" y="354.3" style="font-family:'Liberation Sans',Arial,Helvetica,sans-serif;font-size:31px" fill="#6a75a8" stroke="#6a75a8" stroke-width="0.35">CB</text>
</svg>
</body></html>
